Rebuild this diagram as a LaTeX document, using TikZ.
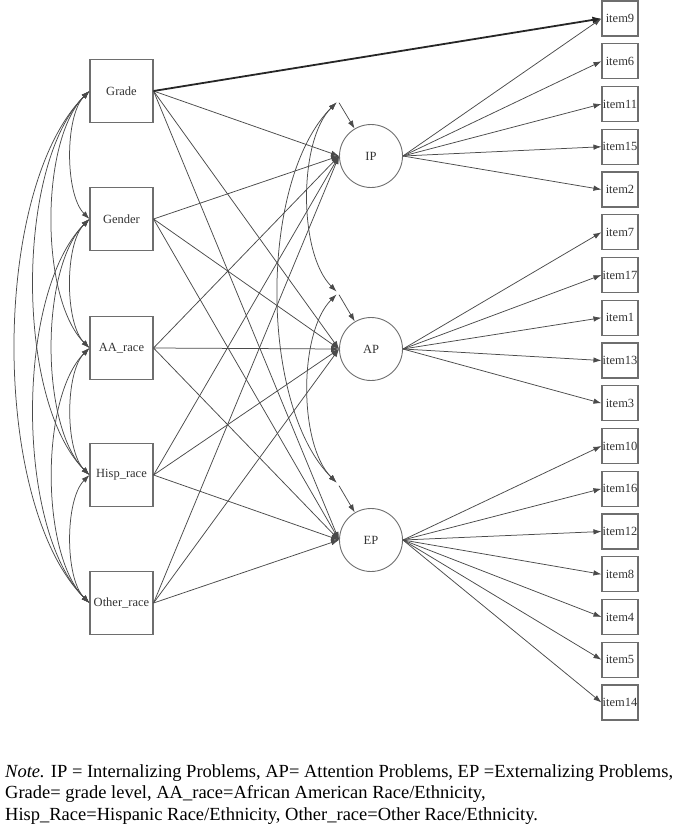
\documentclass[tikz,border=0pt]{standalone}
\usepackage{fontspec}
\setmainfont{Liberation Serif}
\usetikzlibrary{arrows.meta}
\definecolor{lncol}{HTML}{4A4A4A}
\definecolor{boxcol}{HTML}{6E6E6E}
\definecolor{txtcol}{HTML}{333333}
\begin{document}
\begin{tikzpicture}[x=1pt,y=1pt,
  obsbox/.style={draw=boxcol, line width=1.1pt, minimum width=63pt, minimum height=63pt, inner sep=0pt, font=\fontsize{12.5}{14}\selectfont, text=txtcol},
  itembox/.style={draw=boxcol, line width=1.1pt, minimum width=36pt, minimum height=35pt, inner sep=0pt, font=\fontsize{12.5}{14}\selectfont, text=txtcol},
  latent/.style={draw=boxcol, circle, line width=0.9pt, minimum size=63pt, inner sep=0pt, font=\fontsize{12.5}{14}\selectfont, text=txtcol},
  patharrow/.style={draw=lncol, line width=0.75pt, -{Latex[length=8pt,width=5.5pt]}},
  covarrow/.style={draw=lncol, line width=0.75pt, {Latex[length=8pt,width=5.5pt]}-{Latex[length=8pt,width=5.5pt]}},
  thickarrow/.style={draw=black!85, line width=1.8pt, -{Latex[length=9pt,width=7pt]}},
  notetext/.style={anchor=base west, inner sep=0pt, font=\fontsize{18.5}{21.5}\selectfont, text=black}
]
\useasboundingbox (0,0) rectangle (685,-825);

% exogenous boxes
\node[obsbox] (grade) at (121.5,-91) {Grade};
\node[obsbox] (gender) at (121.5,-219) {Gender};
\node[obsbox] (aa) at (121.5,-348) {AA\_race};
\node[obsbox] (hisp) at (121.5,-475) {Hisp\_race};
\node[obsbox] (other) at (121.5,-603) {Other\_race};

% latent factors
\node[latent] (ip) at (371,-156) {IP};
\node[latent] (ap) at (371,-349) {AP};
\node[latent] (ep) at (371,-540) {EP};

% disturbances
\coordinate (d1) at (338,-101);
\coordinate (d2) at (338,-293);
\coordinate (d3) at (338,-484);

% items
\foreach \nm [count=\k from 0] in {item9,item6,item11,item15,item2,item7,item17,item1,item13,item3,item10,item16,item12,item8,item4,item5,item14}{
  \node[itembox] (\nm) at (620,{-18.5-42.75*\k}) {\nm};
}

% covariances among exogenous
\foreach \a/\b in {grade/gender,grade/aa,grade/hisp,grade/other,gender/aa,gender/hisp,gender/other,aa/hisp,aa/other,hisp/other}{
  \draw[covarrow] (\a.west) to[out=225,in=135,looseness=0.7] (\b.west);
}

% regressions
\foreach \a in {grade,gender,aa,hisp,other}{
  \foreach \b in {ip,ap,ep}{
    \draw[patharrow] (\a.east) -- (\b.west);
  }
}

% disturbance arrows and covariances
\draw[patharrow, shorten <=2pt] (d1) -- (ip);
\draw[patharrow, shorten <=2pt] (d2) -- (ap);
\draw[patharrow, shorten <=2pt] (d3) -- (ep);
\draw[covarrow, shorten <=2pt, shorten >=2pt] (d1) to[out=225,in=135,looseness=0.75] (d2);
\draw[covarrow, shorten <=2pt, shorten >=2pt] (d1) to[out=225,in=135,looseness=0.75] (d3);
\draw[covarrow, shorten <=2pt, shorten >=2pt] (d2) to[out=225,in=135,looseness=0.75] (d3);

% loadings
\foreach \it in {item9,item6,item11,item15,item2}{\draw[patharrow] (ip.east) -- (\it.west);}
\foreach \it in {item7,item17,item1,item13,item3}{\draw[patharrow] (ap.east) -- (\it.west);}
\foreach \it in {item10,item16,item12,item8,item4,item5,item14}{\draw[patharrow] (ep.east) -- (\it.west);}

% direct effect
\draw[thickarrow] (grade.east) -- (item9.west);

% note
\node[notetext] (n1) at (5,-777) {\textit{Note.} IP = Internalizing Problems, AP= Attention Problems, EP =Externalizing Problems,};
\node[notetext] (n2) at (5,-798.5) {Grade= grade level, AA\_race=African American Race/Ethnicity,};
\node[notetext] (n3) at (5,-820) {Hisp\_Race=Hispanic Race/Ethnicity, Other\_race=Other Race/Ethnicity.};
\end{tikzpicture}
\end{document}
